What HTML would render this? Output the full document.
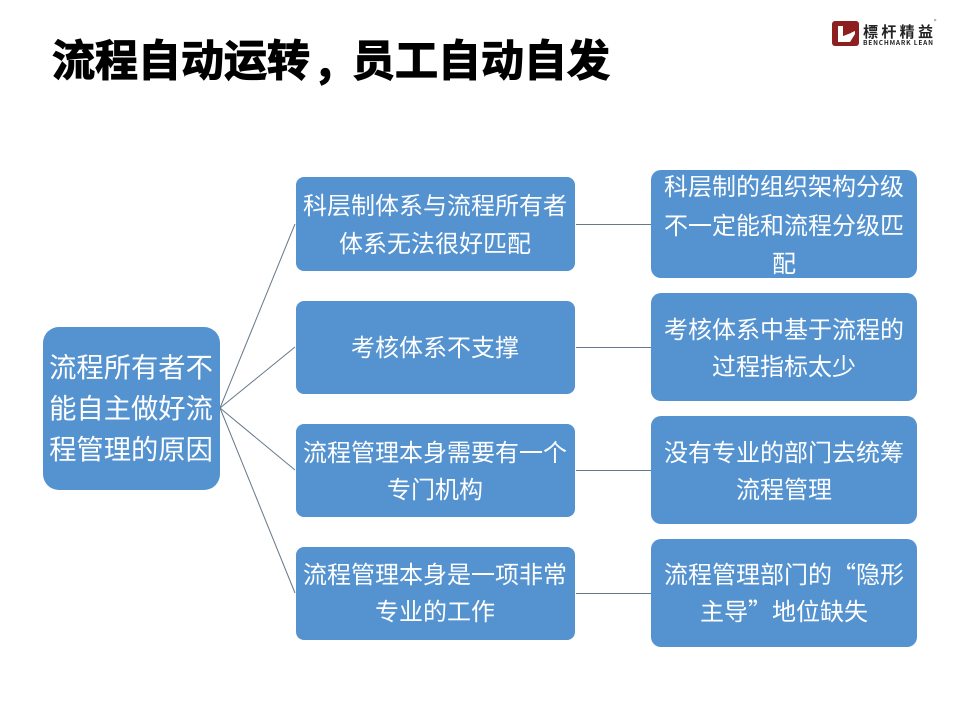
<!DOCTYPE html>
<html lang="zh-CN">
<head>
<meta charset="utf-8">
<title>流程自动运转,员工自动自发</title>
<style>
html,body{margin:0;padding:0;background:#fff;width:960px;height:720px;overflow:hidden}
svg{display:block}
text{font-family:"Noto Sans CJK SC","Liberation Sans",sans-serif}
.t{fill:#fff;text-anchor:middle;font-size:24px}
.r{fill:#fff;text-anchor:middle;font-size:27.3px}
.b{fill:#5593d0}
.h{font-size:43px;font-weight:700;fill:#000;stroke:#000;stroke-width:1.2px}
</style>
</head>
<body>
<svg width="960" height="720" viewBox="0 0 960 720" xmlns="http://www.w3.org/2000/svg">
<rect width="960" height="720" fill="#fff"/>
<text class="h" x="52" y="76">流程自动运转</text>
<text class="h" x="318" y="76">,</text>
<text class="h" x="352" y="76">员工自动自发</text>

<!-- logo -->
<rect x="832" y="21" width="27" height="25" rx="3" fill="#8e1f20"/>
<path d="M838 26h5v10l12-5v3l-5 8h-12z" fill="#fff"/>
<path d="M843 31l13-4-5 6-8 3z" fill="#8e1f20"/>
<text x="863" y="37" font-size="15" font-weight="700" fill="#222" textLength="70" lengthAdjust="spacing">標杆精益</text>
<text x="863" y="45" font-size="6.500" font-weight="700" fill="#222" textLength="70" lengthAdjust="spacing">BENCHMARK LEAN</text>
<text x="934" y="23" font-size="5" fill="#555">®</text>

<!-- connectors -->
<g stroke="#66788a" stroke-width="1" fill="none">
<line x1="220" y1="408" x2="295" y2="224"/>
<line x1="220" y1="408" x2="295" y2="347"/>
<line x1="220" y1="408" x2="295" y2="470"/>
<line x1="220" y1="408" x2="295" y2="593"/>
<line x1="576" y1="224.500" x2="651" y2="224.500"/>
<line x1="576" y1="347.500" x2="651" y2="347.500"/>
<line x1="576" y1="470.500" x2="651" y2="470.500"/>
<line x1="576" y1="593.500" x2="651" y2="593.500"/>
</g>

<!-- boxes -->
<rect class="b" x="43" y="327" width="177" height="163" rx="16"/>
<rect class="b" x="296" y="177" width="279" height="94" rx="8"/>
<rect class="b" x="296" y="301" width="279" height="93" rx="8"/>
<rect class="b" x="296" y="424" width="279" height="93" rx="8"/>
<rect class="b" x="296" y="547" width="279" height="93" rx="8"/>
<rect class="b" x="651" y="170" width="266" height="108" rx="10"/>
<rect class="b" x="651" y="293" width="266" height="108" rx="10"/>
<rect class="b" x="651" y="416" width="266" height="108" rx="10"/>
<rect class="b" x="651" y="539" width="266" height="108" rx="10"/>

<!-- root text -->
<text class="r" x="131" y="377">流程所有者不</text>
<text class="r" x="131" y="418">能自主做好流</text>
<text class="r" x="131" y="459">程管理的原因</text>

<!-- middle text -->
<text class="t" x="435" y="214">科层制体系与流程所有者</text>
<text class="t" x="435" y="252">体系无法很好匹配</text>
<text class="t" x="435" y="356">考核体系不支撑</text>
<text class="t" x="435" y="461">流程管理本身需要有一个</text>
<text class="t" x="435" y="498">专门机构</text>
<text class="t" x="435" y="583">流程管理本身是一项非常</text>
<text class="t" x="435" y="620">专业的工作</text>

<!-- right text -->
<text class="t" x="784" y="195">科层制的组织架构分级</text>
<text class="t" x="784" y="234">不一定能和流程分级匹</text>
<text class="t" x="784" y="272">配</text>
<text class="t" x="784" y="338">考核体系中基于流程的</text>
<text class="t" x="784" y="375">过程指标太少</text>
<text class="t" x="784" y="461">没有专业的部门去统筹</text>
<text class="t" x="784" y="498">流程管理</text>
<text class="t" x="784" y="583">流程管理部门的“隐形</text>
<text class="t" x="784" y="620">主导”地位缺失</text>
</svg>
</body>
</html>
